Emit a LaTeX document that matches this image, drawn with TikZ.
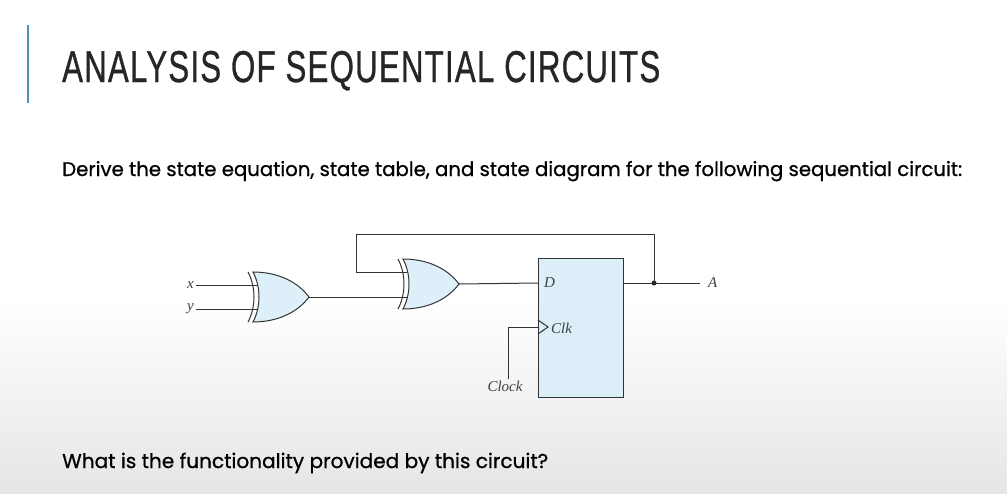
\documentclass[tikz,border=0pt]{standalone}
\usepackage{fontspec}
\setmainfont{Poppins}
\newfontfamily\serifit{Liberation Serif}
\newfontfamily\titlefont{Liberation Sans}
\definecolor{gatefill}{HTML}{DDF0FA}
\definecolor{fffill}{HTML}{DCEEF8}
\definecolor{barblue}{HTML}{4A90C0}
\newcommand\myxor[3]{% name, left x, mid y
  \fill[gatefill] (#2,#3+25) .. controls (#2+25,#3+25) and (#2+45,#3+15) .. (#2+56,#3) .. controls (#2+45,#3-15) and (#2+25,#3-25) .. (#2,#3-25) .. controls (#2+8,#3-10) and (#2+8,#3+10) .. (#2,#3+25);
  \draw[wire] (#2,#3+25) .. controls (#2+25,#3+25) and (#2+45,#3+15) .. (#2+56,#3) .. controls (#2+45,#3-15) and (#2+25,#3-25) .. (#2,#3-25) .. controls (#2+8,#3-10) and (#2+8,#3+10) .. cycle;
  \draw[wire] (#2-5,#3+25) .. controls (#2+3,#3+10) and (#2+3,#3-10) .. (#2-5,#3-25);
  \coordinate (#1o) at (#2+56,#3);
  \coordinate (#1a) at (#2+4,#3+12);
  \coordinate (#1b) at (#2+4,#3-12);
}
\begin{document}
\begin{tikzpicture}[x=1pt,y=-1pt,wire/.style={draw=black!80,line width=1pt},
  lbl/.style={font=\serifit\itshape\fontsize{15}{15}\selectfont,text=black!75,inner sep=0pt}]
\useasboundingbox (0,0) rectangle (1007,493);
\shade[top color=white,bottom color=white] (0,0) rectangle (1007,300);
\shade[top color=white,bottom color=black!10] (0,300) rectangle (1007,493);
\draw[barblue,line width=2pt] (28,25) -- (28,103);
\node[anchor=base west,inner sep=0pt,text=black!85] (title) at (62,82) {\resizebox{598pt}{!}{\titlefont\fontsize{40}{40}\selectfont\addfontfeatures{LetterSpace=4,FakeBold=1}\scalebox{0.7}[1]{ANALYSIS OF SEQUENTIAL CIRCUITS}}};
\node[anchor=base west,inner sep=0pt] (q1) at (62,176) {\resizebox{900pt}{!}{\fontsize{15}{15}\selectfont\addfontfeatures{FakeBold=0.8} Derive the state equation, state table, and state diagram for the following sequential circuit:}};
\node[anchor=base west,inner sep=0pt] (q2) at (62,468) {\resizebox{486pt}{!}{\fontsize{15}{15}\selectfont\addfontfeatures{FakeBold=0.8} What is the functionality provided by this circuit?}};
% gates
\myxor{g1}{253}{297}
\myxor{g2}{403}{284}
% flip-flop
\node[draw=black!80,line width=1pt,fill=fffill,minimum width=85pt,minimum height=139pt,anchor=north west,inner sep=0pt] (ff) at (538,258) {};
\coordinate (ffD) at (538,283);
\coordinate (ffC) at (538,327);
\coordinate (ffQ) at (623,283);
\draw[wire] (538,320) -- (548,327) -- (538,334);
\node[lbl,anchor=west] (Dl) at (544,283) {D};
\node[lbl,anchor=west] (Cl) at (551,328) {Clk};
% inputs
\node[lbl,anchor=east] (x) at (194,285) {x};
\node[lbl,anchor=east] (y) at (194,309) {y};
\draw[wire] (x.east) ++(2,0) -- (g1a |- x);
\draw[wire] (y.east) ++(2,0) -- (g1b |- y);
\draw[wire] (g1o) -- (g2b |- g1o);
\draw[wire] (g2o) -- (ffD);
\coordinate (j) at (654,283);
\node[lbl,anchor=west] (A) at (708,283) {A};
\draw[wire] (ffQ) -- (700,283);
\fill[black!85] (j) circle (2.5);
\draw[wire] (j) -- (654,234) -- (356,234) -- (356,272) -- (g2a |- 0,272);
\node[lbl,anchor=north] (clock) at (505,381) {Clock};
\draw[wire] (508,379) -- (508,327) -- (ffC);
\end{tikzpicture}
\end{document}
